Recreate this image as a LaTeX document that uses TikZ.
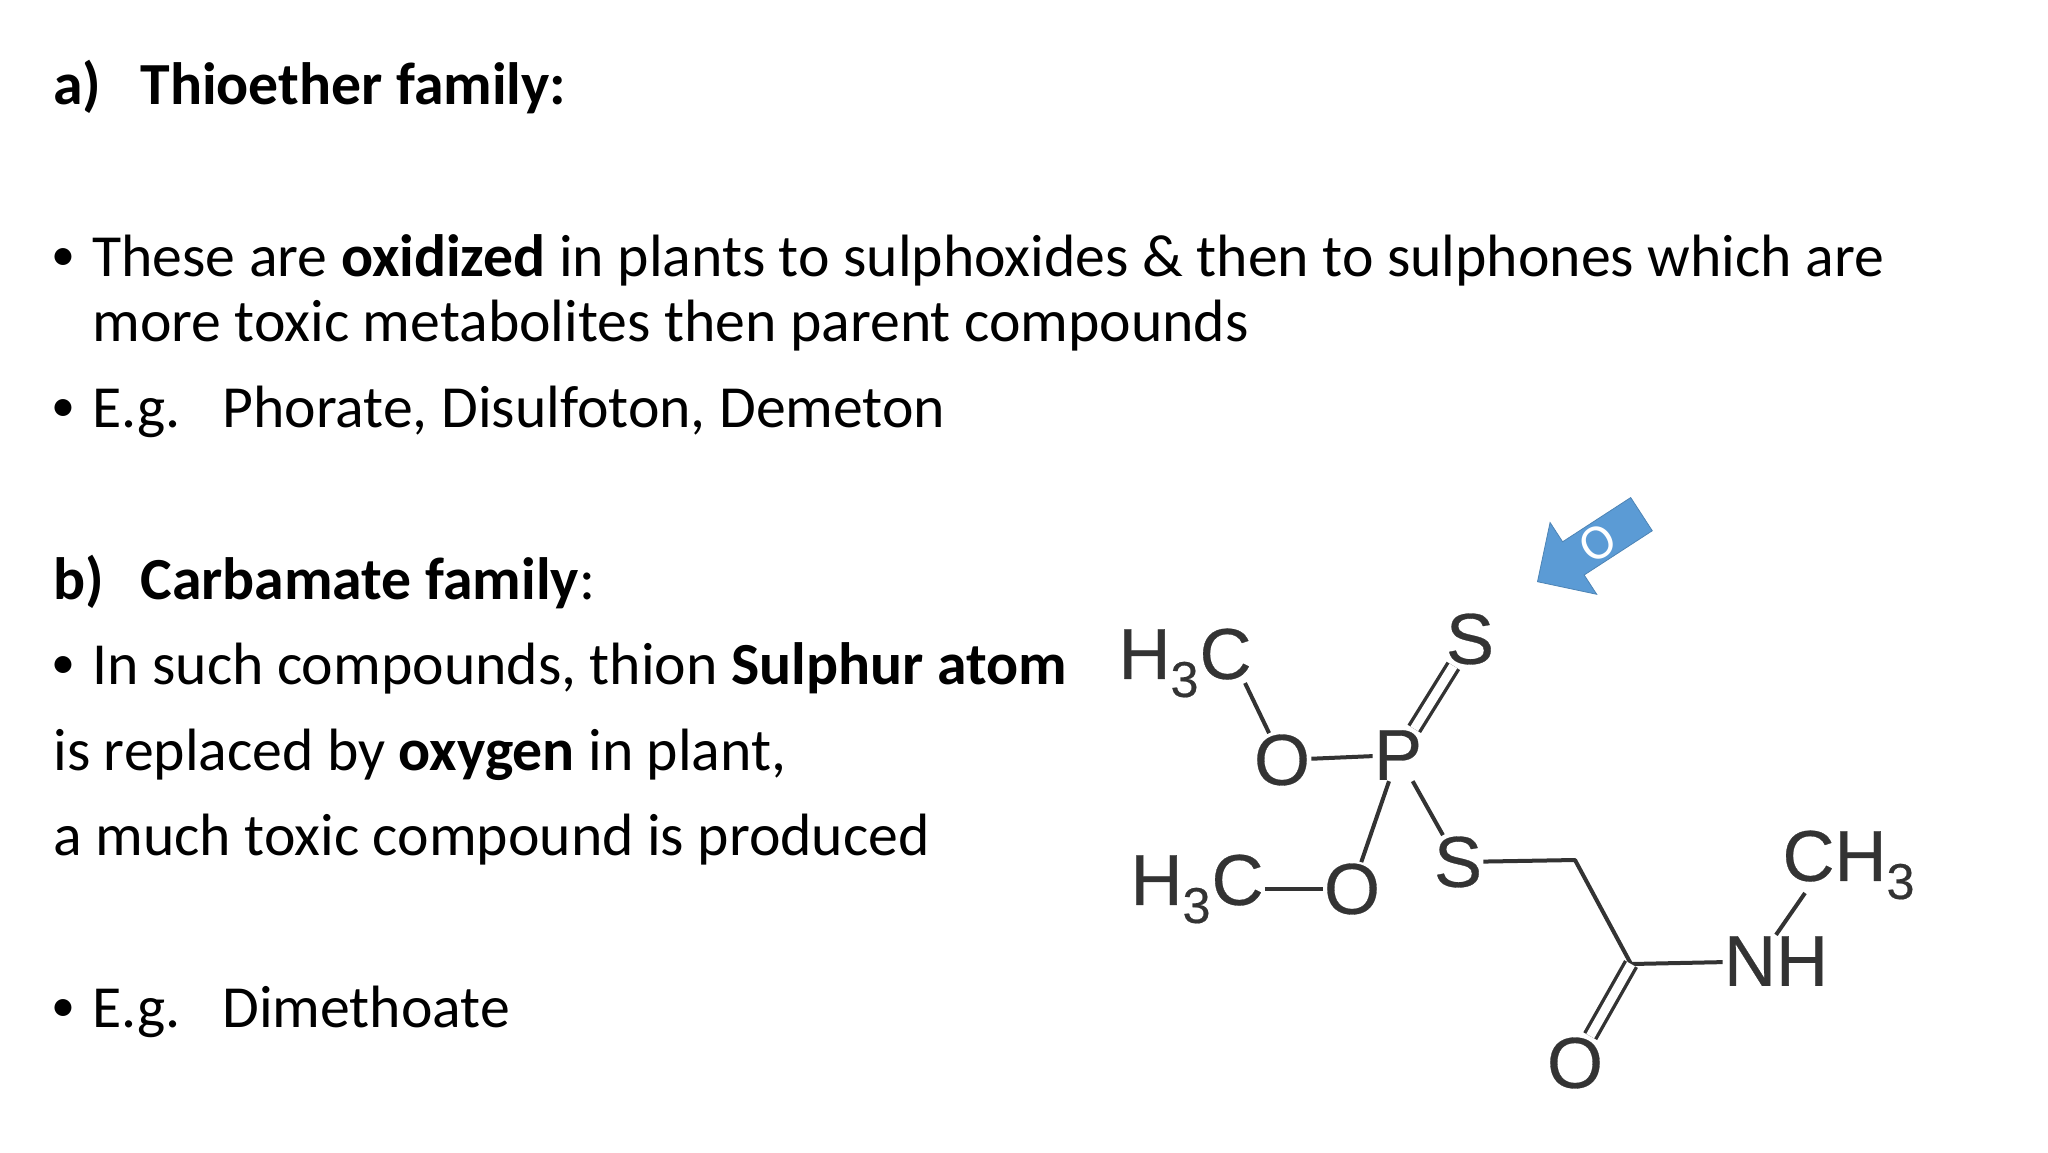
\documentclass[tikz,border=0pt]{standalone}
\usepackage{fontspec}
\setmainfont{Carlito}
\newfontfamily\atomfont[FakeBold=0.4]{Liberation Sans}
\usetikzlibrary{shapes.arrows}
\definecolor{officeblue}{HTML}{5B9BD5}
\definecolor{bondgrey}{HTML}{333333}
\tikzset{
  line/.style={anchor=base west, inner sep=0pt, font=\fontsize{29.87}{32}\selectfont},
  dot/.style={anchor=base west, inner sep=0pt, font=\fontsize{24}{25}\selectfont},
  atom/.style={inner sep=0.5pt, text=bondgrey, font=\atomfont\fontsize{36}{38}\selectfont},
  bond/.style={draw=bondgrey, line width=2pt},
  dbl/.style={draw=bondgrey, line width=1.7pt, double=white, double distance=4.5pt}
}
\begin{document}
\begin{tikzpicture}[x=0.5pt, y=-0.5pt]
  \useasboundingbox (0,0) rectangle (2048,1152);
  \node[line] (heada) at (53,104) {\textbf{\makebox[43.5pt][l]{a)}Thioether family:}};
  \node[dot] (buloxa) at (51,270) {•};
  \node[line] (oxa) at (92,276) {These are \textbf{oxidized} in plants to sulphoxides \& then to sulphones which are};
  \node[line] (oxb) at (92,341) {more toxic metabolites then parent compounds};
  \node[dot] (bulega) at (51,421) {•};
  \node[line] (ega) at (92,427) {\makebox[65pt][l]{E.g.}Phorate, Disulfoton, Demeton};
  \node[line] (headb) at (53,599) {\textbf{\makebox[43.5pt][l]{b)}Carbamate family}:};
  \node[dot] (bulsul) at (51,678) {•};
  \node[line] (sula) at (92,684) {In such compounds, thion \textbf{Sulphur atom}};
  \node[line] (sulb) at (53,770) {is replaced by \textbf{oxygen} in plant,};
  \node[line] (sulc) at (53,855) {a much toxic compound is produced};
  \node[dot] (bulegb) at (51,1021) {•};
  \node[line] (egb) at (92,1027) {\makebox[65pt][l]{E.g.}Dimethoate};

  \node[single arrow, fill=officeblue, draw=officeblue!85!black, line width=0.4pt, anchor=tip,
        rotate=33, shape border rotate=180, inner sep=1.5pt, minimum height=62pt, minimum width=42pt,
        single arrow head extend=11.5pt, text=white, font=\fontsize{25}{26}\selectfont] (oarrow) at (1537,582) {O};

  \node[atom] (hcup) at (1185,663) {H\textsubscript{3}C};
  \coordinate (hcfoot) at (1245,683);
  \node[atom] (oup) at (1282,760) {O};
  \node[atom] (p) at (1398,755) {P};
  \node[atom] (sup) at (1470,639) {S};
  \node[atom] (hclow) at (1197,889) {H\textsubscript{3}C};
  \node[atom] (olow) at (1352,889) {O};
  \node[atom] (schain) at (1458,862) {S};
  \coordinate (ctwo) at (1575,860);
  \coordinate (cco) at (1631,964);
  \node[atom] (nh) at (1776,961) {NH};
  \node[atom] (chthree) at (1849,865) {CH\textsubscript{3}};
  \coordinate (chfoot) at (1805,893);
  \node[atom] (oco) at (1575,1063) {O};
  \path[bond]
  (hcfoot) edge (oup)
  (oup) edge (p)
  (p) edge (olow)
  (p) edge (schain)
  (hclow) edge (olow)
  (nh.north) edge (chfoot)
  (cco) edge (nh);
  \draw[bond, line join=round] (schain) -- (ctwo) -- (cco);
  \draw[dbl] (p) -- (sup);
  \draw[dbl] (cco) -- (oco);
\end{tikzpicture}
\end{document}
